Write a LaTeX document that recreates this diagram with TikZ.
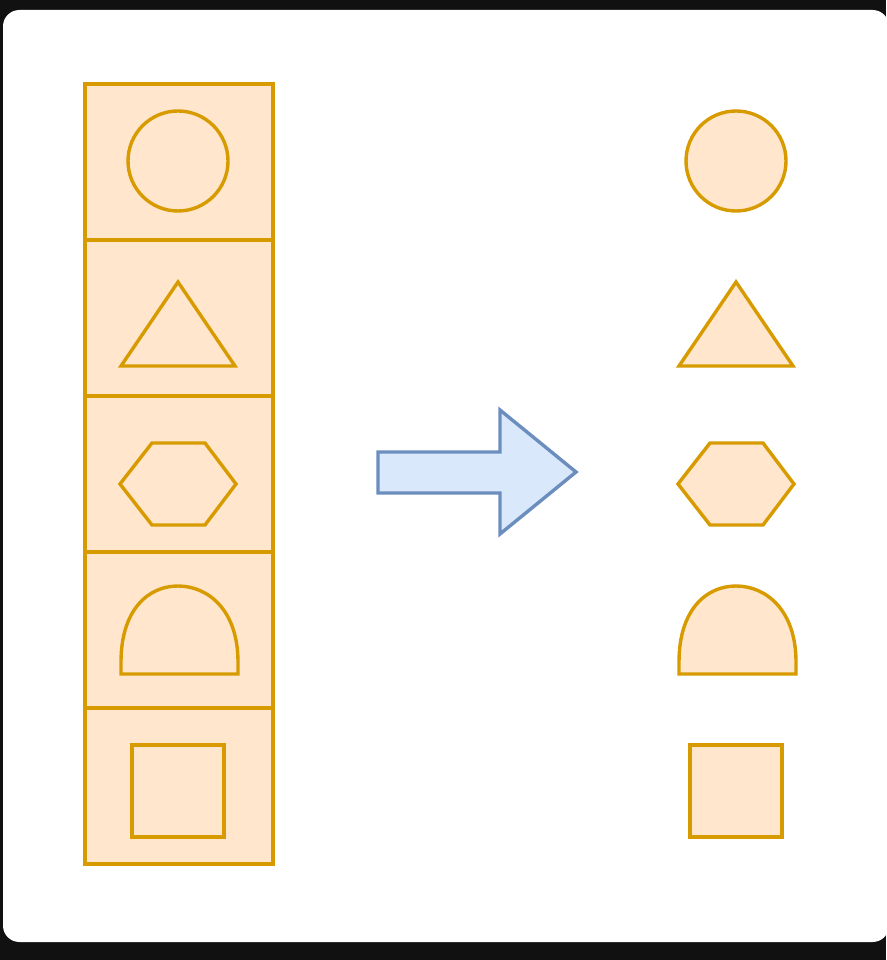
\documentclass[tikz,border=0pt]{standalone}
\usepackage{tikz}
\usetikzlibrary{positioning}
\definecolor{shapeline}{HTML}{D79B00}
\definecolor{shapefill}{HTML}{FFE6CC}
\definecolor{arrowline}{HTML}{6C8EBF}
\definecolor{arrowfill}{HTML}{DAE8FC}
\definecolor{frame}{HTML}{111111}
\begin{document}
\begin{tikzpicture}[x=0.03cm,y=-0.03cm,
    orangepart/.style={draw=shapeline,fill=shapefill,line width=2.9pt,line join=miter},
    bigarrow/.style={draw=arrowline,fill=arrowfill,line width=2.9pt,line join=miter}]
            \useasboundingbox (0,0) rectangle (886,960);
            \fill[frame] (0,0) rectangle (886,960);
            \fill[white,rounded corners=14] (3,10) rectangle (889,942);
            % left column of cells
            \foreach \y in {84,240,396,552,708}
                \draw[orangepart] (85,\y) rectangle (273,\y+156);
            % shapes, left (x=178) and right (x=736)
            \foreach \cx in {178,736} {
                \draw[orangepart] (\cx,161) circle (50);
                \draw[orangepart] (\cx,282) -- (\cx+57,366) -- (\cx-57,366) -- cycle;
                \draw[orangepart] (\cx-58,484) -- (\cx-26,443) -- (\cx+27,443) -- (\cx+58,484)
                    -- (\cx+27,525) -- (\cx-26,525) -- cycle;
                \draw[orangepart] (\cx-57,674) -- (\cx-57,662) .. controls (\cx-57,610) and (\cx-30,586) .. (\cx,586)
                    .. controls (\cx+30,586) and (\cx+60,610) .. (\cx+60,662) -- (\cx+60,674) -- cycle;
                \draw[orangepart] (\cx-46,745) rectangle (\cx+46,837);
            }
            % the arrow
            \draw[bigarrow] (378,452) -- (500,452) -- (500,410) -- (576,472) -- (500,534)
                -- (500,493) -- (378,493) -- cycle;
        \end{tikzpicture}
\end{document}
